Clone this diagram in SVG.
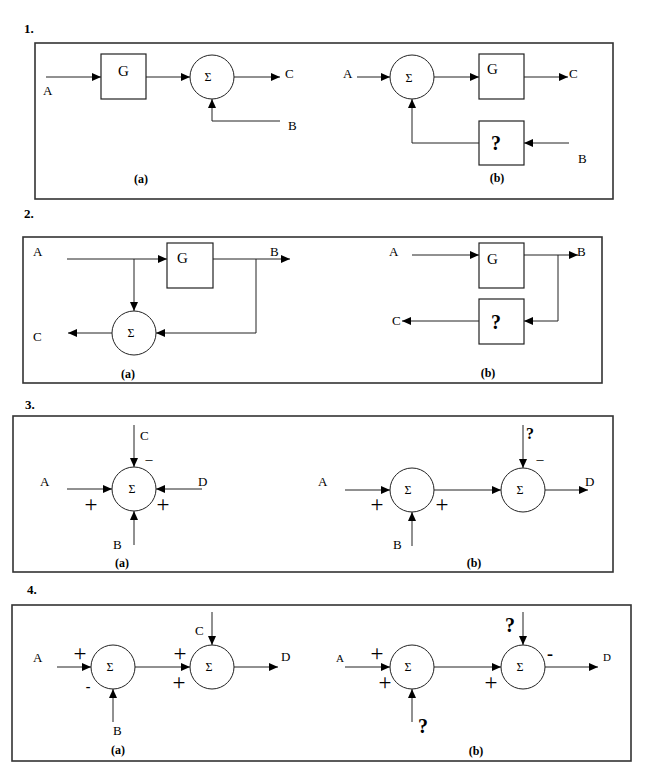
<svg xmlns="http://www.w3.org/2000/svg" width="665" height="781" viewBox="0 0 665 781">
<style>
text{font-family:"Liberation Serif","Times New Roman",serif;fill:#000}
.lbl{font-size:13px}
.g{font-size:15px}
.sig{font-size:12px;text-anchor:middle}
.hd{font-size:13px;font-weight:bold}
.cap{font-size:12px;font-weight:bold;text-anchor:middle}
.q{font-size:20px;font-weight:bold;text-anchor:middle}
.pl{font-size:23px;text-anchor:middle}
.mn{font-size:14px;text-anchor:middle}
.frame{fill:none;stroke:#333;stroke-width:1.6}
.blk{fill:#fff;stroke:#222;stroke-width:1.2}
.sum{fill:#fff;stroke:#222;stroke-width:1}
.w{fill:none;stroke:#222;stroke-width:1}
</style>
<defs>
<marker id="ar" markerUnits="userSpaceOnUse" markerWidth="9" markerHeight="8" refX="9" refY="4" orient="auto">
<path d="M0,0 L9,4 L0,8 Z" fill="#000"/>
</marker>
</defs>
<rect width="665" height="781" fill="#fff"/>

<g id="panel1">
<text class="hd" x="24" y="33">1.</text>
<rect class="frame" x="35" y="43" width="578" height="156"/>
<text class="cap" x="141" y="183">(a)</text>
<text class="cap" x="497" y="182">(b)</text>
</g>
<g id="panel2">
<text class="hd" x="24" y="218">2.</text>
<rect class="frame" x="23" y="237" width="579" height="146"/>
<text class="cap" x="128" y="378">(a)</text>
<text class="cap" x="488" y="377">(b)</text>
</g>
<g id="panel3">
<text class="hd" x="25" y="409">3.</text>
<rect class="frame" x="13" y="416" width="600" height="156"/>
<text class="cap" x="122" y="567">(a)</text>
<text class="cap" x="474" y="567">(b)</text>
</g>
<g id="panel4">
<text class="hd" x="27" y="594">4.</text>
<rect class="frame" x="12" y="605" width="619" height="156"/>
<text class="cap" x="118" y="754">(a)</text>
<text class="cap" x="476" y="755">(b)</text>
</g>

<g id="connectors">
<line class="w" x1="46" y1="77" x2="101" y2="77" marker-end="url(#ar)"/>
<line class="w" x1="146" y1="77" x2="190" y2="77" marker-end="url(#ar)"/>
<line class="w" x1="234" y1="77" x2="280" y2="77" marker-end="url(#ar)"/>
<polyline class="w" points="280,121 212,121 212,99" marker-end="url(#ar)"/>
<line class="w" x1="357" y1="77" x2="390" y2="77" marker-end="url(#ar)"/>
<line class="w" x1="434" y1="77" x2="479" y2="77" marker-end="url(#ar)"/>
<line class="w" x1="524" y1="77" x2="568" y2="77" marker-end="url(#ar)"/>
<line class="w" x1="569" y1="143" x2="524" y2="143" marker-end="url(#ar)"/>
<polyline class="w" points="479,143 412,143 412,99" marker-end="url(#ar)"/>
<line class="w" x1="67" y1="259" x2="167" y2="259" marker-end="url(#ar)"/>
<line class="w" x1="134" y1="259" x2="134" y2="311" marker-end="url(#ar)"/>
<line class="w" x1="213" y1="259" x2="290" y2="259" marker-end="url(#ar)"/>
<polyline class="w" points="256,259 256,333 156,333" marker-end="url(#ar)"/>
<line class="w" x1="112" y1="333" x2="68" y2="333" marker-end="url(#ar)"/>
<line class="w" x1="412" y1="255" x2="479" y2="255" marker-end="url(#ar)"/>
<line class="w" x1="524" y1="255" x2="578" y2="255" marker-end="url(#ar)"/>
<polyline class="w" points="558,255 558,321 524,321" marker-end="url(#ar)"/>
<line class="w" x1="479" y1="321" x2="402" y2="321" marker-end="url(#ar)"/>
<line class="w" x1="67" y1="489" x2="112" y2="489" marker-end="url(#ar)"/>
<line class="w" x1="134" y1="425" x2="134" y2="467" marker-end="url(#ar)"/>
<line class="w" x1="202" y1="489" x2="156" y2="489" marker-end="url(#ar)"/>
<line class="w" x1="134" y1="545" x2="134" y2="511" marker-end="url(#ar)"/>
<line class="w" x1="345" y1="490" x2="390" y2="490" marker-end="url(#ar)"/>
<line class="w" x1="412" y1="546" x2="412" y2="512" marker-end="url(#ar)"/>
<line class="w" x1="434" y1="490" x2="501" y2="490" marker-end="url(#ar)"/>
<line class="w" x1="523" y1="425" x2="523" y2="468" marker-end="url(#ar)"/>
<line class="w" x1="545" y1="490" x2="588" y2="490" marker-end="url(#ar)"/>
<line class="w" x1="57" y1="667" x2="91" y2="667" marker-end="url(#ar)"/>
<line class="w" x1="113" y1="722" x2="113" y2="689" marker-end="url(#ar)"/>
<line class="w" x1="135" y1="667" x2="190" y2="667" marker-end="url(#ar)"/>
<line class="w" x1="212" y1="612" x2="212" y2="645" marker-end="url(#ar)"/>
<line class="w" x1="234" y1="667" x2="278" y2="667" marker-end="url(#ar)"/>
<line class="w" x1="345" y1="667" x2="390" y2="667" marker-end="url(#ar)"/>
<line class="w" x1="412" y1="722" x2="412" y2="689" marker-end="url(#ar)"/>
<line class="w" x1="434" y1="667" x2="501" y2="667" marker-end="url(#ar)"/>
<line class="w" x1="523" y1="612" x2="523" y2="645" marker-end="url(#ar)"/>
<line class="w" x1="545" y1="667" x2="598" y2="667" marker-end="url(#ar)"/>
</g>

<g id="n1a_G"><rect class="blk" x="101" y="54" width="45" height="45"/><text class="g" x="118" y="76">G</text></g>
<g id="n1a_S"><circle class="sum" cx="212" cy="77" r="22"/><text class="sig" x="208" y="81">Σ</text></g>
<g id="n1a_labels"><text class="lbl" x="43" y="95">A</text><text class="lbl" x="285" y="78">C</text><text class="lbl" x="288" y="130">B</text></g>

<g id="n1b_S"><circle class="sum" cx="412" cy="77" r="22"/><text class="sig" x="409" y="82">Σ</text></g>
<g id="n1b_G"><rect class="blk" x="479" y="54" width="45" height="45"/><text class="g" x="487" y="74">G</text></g>
<g id="n1b_Q"><rect class="blk" x="479" y="121" width="45" height="44"/><text class="q" x="496" y="150">?</text></g>
<g id="n1b_labels"><text class="lbl" x="343" y="78">A</text><text class="lbl" x="569" y="78">C</text><text class="lbl" x="578" y="163">B</text></g>

<g id="n2a_G"><rect class="blk" x="167" y="243" width="46" height="45"/><text class="g" x="177" y="263">G</text></g>
<g id="n2a_S"><circle class="sum" cx="134" cy="333" r="22"/><text class="sig" x="131" y="337">Σ</text></g>
<g id="n2a_labels"><text class="lbl" x="33" y="256">A</text><text class="lbl" x="270" y="256">B</text><text class="lbl" x="33" y="341">C</text></g>

<g id="n2b_G"><rect class="blk" x="479" y="243" width="45" height="45"/><text class="g" x="487" y="264">G</text></g>
<g id="n2b_Q"><rect class="blk" x="479" y="299" width="45" height="45"/><text class="q" x="496" y="329">?</text></g>
<g id="n2b_labels"><text class="lbl" x="389" y="256">A</text><text class="lbl" x="577" y="256">B</text><text class="lbl" x="392" y="325">C</text></g>

<g id="n3a_S"><circle class="sum" cx="134" cy="489" r="22"/><text class="sig" x="132" y="493">Σ</text></g>
<g id="n3a_labels">
<text class="lbl" x="40" y="486">A</text><text class="lbl" x="140" y="440">C</text><text class="lbl" x="198" y="486">D</text><text class="lbl" x="113" y="549">B</text>
<text class="pl" x="91" y="512">+</text><text class="pl" x="163" y="512">+</text><text class="mn" x="149" y="464">–</text>
</g>

<g id="n3b_S1"><circle class="sum" cx="412" cy="490" r="22"/><text class="sig" x="408" y="494">Σ</text></g>
<g id="n3b_S2"><circle class="sum" cx="523" cy="490" r="22"/><text class="sig" x="520" y="494">Σ</text></g>
<g id="n3b_labels">
<text class="lbl" x="318" y="486">A</text><text class="lbl" x="393" y="549">B</text><text class="lbl" x="585" y="486">D</text>
<text class="q" x="530" y="439" style="font-size:16px">?</text>
<text class="pl" x="377" y="512">+</text><text class="pl" x="442" y="512">+</text><text class="mn" x="540" y="464">–</text>
</g>

<g id="n4a_S1"><circle class="sum" cx="113" cy="667" r="22"/><text class="sig" x="110" y="671">Σ</text></g>
<g id="n4a_S2"><circle class="sum" cx="212" cy="667" r="22"/><text class="sig" x="209" y="671">Σ</text></g>
<g id="n4a_labels">
<text class="lbl" x="33" y="662">A</text><text class="lbl" x="113" y="735">B</text><text class="lbl" x="195" y="635">C</text><text class="lbl" x="281" y="661">D</text>
<text class="pl" x="80" y="661">+</text><text class="mn" x="88" y="691" style="font-weight:bold">-</text>
<text class="pl" x="180" y="661">+</text><text class="pl" x="179" y="690">+</text>
</g>

<g id="n4b_S1"><circle class="sum" cx="412" cy="667" r="22"/><text class="sig" x="408" y="671">Σ</text></g>
<g id="n4b_S2"><circle class="sum" cx="523" cy="667" r="22"/><text class="sig" x="520" y="671">Σ</text></g>
<g id="n4b_labels">
<text class="lbl" x="336" y="662" style="font-size:11px">A</text><text class="lbl" x="603" y="661" style="font-size:11px">D</text>
<text class="q" x="423" y="733">?</text><text class="q" x="510" y="632">?</text>
<text class="pl" x="377" y="661">+</text><text class="pl" x="385" y="690">+</text>
<text class="pl" x="491" y="690">+</text><text class="mn" x="550" y="660" style="font-weight:bold;font-size:18px">-</text>
</g>
</svg>
